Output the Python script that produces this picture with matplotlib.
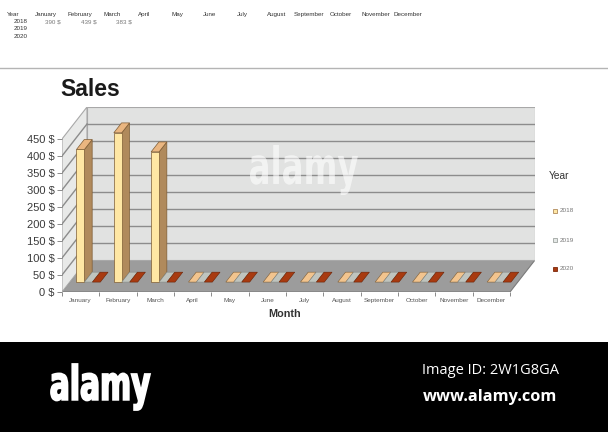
import matplotlib
matplotlib.use("Agg")
import matplotlib.pyplot as plt
from matplotlib.patches import Polygon, Rectangle, PathPatch
from matplotlib.textpath import TextPath
from matplotlib.font_manager import FontProperties
from matplotlib.transforms import Affine2D

# ---------------- data ----------------
months = ["January", "February", "March", "April", "May", "June", "July",
          "August", "September", "October", "November", "December"]
years = ["2018", "2019", "2020"]
sales_2018 = [390, 439, 383, 0, 0, 0, 0, 0, 0, 0, 0, 0]
sales_2019 = [0, 0, 0, 0, 0, 0, 0, 0, 0, 0, 0, 0]
sales_2020 = [0, 0, 0, 0, 0, 0, 0, 0, 0, 0, 0, 0]
y_ticks = [0, 50, 100, 150, 200, 250, 300, 350, 400, 450]
y_tick_labels = ["0 $", "50 $", "100 $", "150 $", "200 $", "250 $", "300 $",
                 "350 $", "400 $", "450 $"]

series = [sales_2018, sales_2019, sales_2020]
# (front, side, top, edge)
colors = [
    ("#ffe7a4", "#b08a5c", "#eab680", "#7d5c34"),
    ("#d3d9d6", "#9ea3a0", "#bfc4be", "#858a86"),
    ("#c04a16", "#7c280a", "#a83a10", "#6a2204"),
]

W, H = 608, 432
fig = plt.figure(figsize=(W / 100, H / 100), dpi=100)
fig.patch.set_facecolor("white")


def fx(x):
    return x / W


def fy(y):
    return 1 - y / H


FONT = "Liberation Sans"

# ---------------- top data table ----------------
col_x = [35, 67, 103, 138, 172, 203, 237, 267, 294, 330, 361, 393]
fig.text(fx(7), fy(14.5), "Year", fontsize=4.5, color="#333333",
         family=FONT, va="center", ha="left")
for m, cx in zip(months, col_x):
    fig.text(fx(cx), fy(14.5), m, fontsize=4.5, color="#333333",
             family=FONT, va="center", ha="left")
row_y = [21.5, 29, 36]
for yr, ry, vals in zip(years, row_y, series):
    fig.text(fx(28), fy(ry), yr, fontsize=4.5, color="#333333",
             family=FONT, va="center", ha="right")
    for i, v in enumerate(vals):
        if v:
            fig.text(fx(col_x[i + 1] - 6), fy(ry), f"{v} $", fontsize=4.5,
                     color="#777777", family=FONT, va="center", ha="right")
fig.add_artist(plt.Line2D([0, 1], [fy(68), fy(68)], color="#b4b4b4", lw=1.0,
                          transform=fig.transFigure))

# ---------------- title ----------------
fig.text(fx(60), fy(90), "Sales", fontsize=16.5, fontweight="bold",
         color="#1a1a1a", family=FONT, va="center", ha="left")

# ---------------- 3D-look axes ----------------
n = len(months)
front_left, front_right, front_y = 62, 510, 292
back_right, back_top = 535, 107
cat_px = (front_right - front_left) / n
DX = (back_right - front_right) / cat_px          # depth shift in category units
px_per_unit = (front_y - 139) / 450.0
DY = (front_y - 260) / px_per_unit               # depth shift in value units
VMAX = 450

ax = fig.add_axes([fx(front_left), fy(front_y), (back_right - front_left) / W,
                   (front_y - back_top) / H])
ax.set_xlim(0, n + DX)
ax.set_ylim(0, VMAX + DY)
for s in ax.spines.values():
    s.set_visible(False)
ax.patch.set_alpha(0)


def P(x, v, d):
    return (x + d * DX, v + d * DY)


def poly(pts, fc, ec, lw=0.6, z=1):
    ax.add_patch(Polygon(pts, closed=True, facecolor=fc, edgecolor=ec,
                         linewidth=lw, zorder=z))


# floor, back wall, side wall
poly([P(0, 0, 0), P(n, 0, 0), P(n, 0, 1), P(0, 0, 1)], "#9c9c9c", "#7a7a7a", 0.8, 1)
poly([P(0, 0, 1), P(n, 0, 1), P(n, VMAX, 1), P(0, VMAX, 1)], "#e1e2e1", "#a8a8a8", 0.8, 1)
poly([P(0, 0, 0), P(0, 0, 1), P(0, VMAX, 1), P(0, VMAX, 0)], "#e8e9e8", "#a8a8a8", 0.8, 1)
for v in y_ticks[1:-1]:
    ax.plot(*zip(P(0, v, 1), P(n, v, 1)), color="#8c8c8c", lw=1.0, zorder=2)
    ax.plot(*zip(P(0, v, 0), P(0, v, 1)), color="#8c8c8c", lw=1.0, zorder=2)

# bars
bw = 0.213
g0 = 0.18
d0, d1 = 0.31, 0.62
for i in range(n):
    for j, vals in enumerate(series):
        v = vals[i]
        x0 = i + g0 + j * bw
        x1 = x0 + bw
        fc, sc, tc, ec = colors[j]
        if v > 0:
            poly([P(x1, 0, d0), P(x1, 0, d1), P(x1, v, d1), P(x1, v, d0)], sc, ec, 0.5, 3)
            poly([P(x0, v, d0), P(x1, v, d0), P(x1, v, d1), P(x0, v, d1)], tc, ec, 0.5, 3)
            poly([P(x0, 0, d0), P(x1, 0, d0), P(x1, v, d0), P(x0, v, d0)], fc, ec, 0.5, 3)
        else:
            slab = tc if j != 0 else "#f2c48e"
            poly([P(x0, 0, d0), P(x1, 0, d0), P(x1, 0, d1), P(x0, 0, d1)], slab, ec, 0.4, 3)

# axes ticks / labels
ax.set_yticks(y_ticks)
ax.set_yticklabels(y_tick_labels, fontsize=8, color="#3a3a3a", family=FONT)
ax.tick_params(axis="y", length=3.5, width=0.6, color="#777777", pad=2)
ax.set_xticks([i + 0.5 for i in range(n)])
ax.set_xticklabels(months, fontsize=4.6, color="#555555", family=FONT)
ax.set_xticks(list(range(n + 1)), minor=True)
ax.tick_params(axis="x", which="major", length=0, pad=4)
ax.tick_params(axis="x", which="minor", length=3, width=0.6, color="#777777")

fig.text(fx(285), fy(314), "Month", fontsize=7.8, fontweight="bold",
         color="#333333", family=FONT, ha="center", va="center")

# legend
fig.text(fx(549), fy(176), "Year", fontsize=7.3, color="#333333", family=FONT,
         ha="left", va="center")
leg_y = [211, 240, 269]
leg_fill = ["#ffe7a4", "#e4e8e6", "#a83a10"]
for yr, ly, lf, (fc, sc, tc, ec) in zip(years, leg_y, leg_fill, colors):
    fig.add_artist(Rectangle((fx(553), fy(ly + 2.2)), 4.4 / W, 4.4 / H,
                             facecolor=lf, edgecolor=sc, lw=0.6,
                             transform=fig.transFigure))
    fig.text(fx(559.5), fy(ly), yr, fontsize=4.6, color="#777777",
             family=FONT, ha="left", va="center")


def fitted_text(s, x0, y0, x1, y1, color, alpha=1.0, z=10, stroke=0.0):
    """Draw text s squeezed into the pixel box (x0,y0)-(x1,y1) (top-left origin)."""
    tp = TextPath((0, 0), s, size=50,
                  prop=FontProperties(family="DejaVu Sans", weight="bold"))
    ext = tp.get_extents()
    tx0, tx1 = fx(x0), fx(x1)
    ty0, ty1 = fy(y1), fy(y0)
    tr = (Affine2D().translate(-ext.x0, -ext.y0)
          .scale((tx1 - tx0) / ext.width, (ty1 - ty0) / ext.height)
          .translate(tx0, ty0) + fig.transFigure)
    fig.add_artist(PathPatch(tp, facecolor=color,
                             edgecolor=color if stroke else "none",
                             linewidth=stroke, alpha=alpha, transform=tr,
                             zorder=z))


# watermark in chart
fitted_text("alamy", 250, 145, 358, 195, "white", alpha=0.6)

# footer band
fig.add_artist(Rectangle((0, 0), 1, (H - 342) / H, facecolor="black",
                         edgecolor="none", transform=fig.transFigure))
fitted_text("alamy", 51, 364, 150, 410, "white", stroke=1.3)
fig.text(fx(422), fy(371), "Image ID: 2W1G8GA", fontsize=10.5, color="white",
         family=["Open Sans", "DejaVu Sans"], ha="left", va="center")
fig.text(fx(423), fy(397), "www.alamy.com", fontsize=11.8, fontweight="bold",
         color="white", family=["Open Sans", "DejaVu Sans"], ha="left",
         va="center")

fig.savefig("out.png", dpi=100, facecolor="white")
